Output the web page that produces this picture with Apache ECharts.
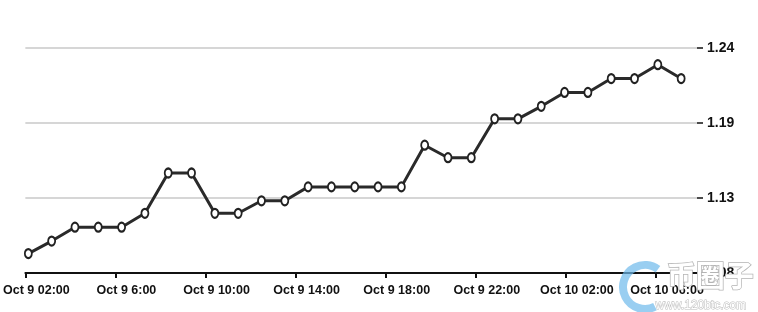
<!DOCTYPE html>
<html>
<head>
<meta charset="utf-8">
<script src="https://cdn.jsdelivr.net/npm/echarts@6/dist/echarts.min.js"></script>
<style>
html,body{margin:0;padding:0;background:#fff;}
#c{width:758px;height:312px;}
</style>
</head>
<body>
<div id="c"></div>
<script>
// hourly observations, Oct 9 02:00 -> Oct 10 06:00
var times = ["Oct 9 02:00","Oct 9 03:00","Oct 9 04:00","Oct 9 05:00","Oct 9 06:00","Oct 9 07:00","Oct 9 08:00","Oct 9 09:00","Oct 9 10:00","Oct 9 11:00","Oct 9 12:00","Oct 9 13:00","Oct 9 14:00","Oct 9 15:00","Oct 9 16:00","Oct 9 17:00","Oct 9 18:00","Oct 9 19:00","Oct 9 20:00","Oct 9 21:00","Oct 9 22:00","Oct 9 23:00","Oct 10 00:00","Oct 10 01:00","Oct 10 02:00","Oct 10 03:00","Oct 10 04:00","Oct 10 05:00","Oct 10 06:00"];
var values = [1.094,1.103,1.113,1.113,1.113,1.123,1.152,1.152,1.123,1.123,1.132,1.132,1.142,1.142,1.142,1.142,1.142,1.172,1.163,1.163,1.191,1.191,1.200,1.210,1.210,1.220,1.220,1.230,1.220];
var tickLabels = ["Oct 9 02:00","Oct 9 6:00","Oct 9 10:00","Oct 9 14:00","Oct 9 18:00","Oct 9 22:00","Oct 10 02:00","Oct 10 06:00"];
var tickHours = [0,4,8,12,16,20,24,28];
var yMin = 1.08, yStep = 0.054, yMax = 1.242;

var seriesData = values.map(function(v,i){ return [i, v]; });

var chart = echarts.init(document.getElementById('c'), null, {renderer:'canvas'});
var font = '"Liberation Sans", Arial, sans-serif';
chart.setOption({
  animation:false,
  backgroundColor:'#ffffff',
  grid:{left:24, right:61, top:48, bottom:39, containLabel:false},
  xAxis:[{
    type:'value', min:-0.128, max:28.68,
    show:false
  },{
    type:'value', min:0, max:29.82, position:'bottom',
    axisLine:{show:true, onZero:false, lineStyle:{color:'#111', width:2}},
    axisTick:{show:true, length:5, lineStyle:{color:'#111', width:2}, customValues:tickHours},
    axisLabel:{show:true, customValues:tickHours, margin:11, padding:[0,0,0,22],
      color:'#111', fontFamily:font, fontWeight:'bold', fontSize:12.5,
      formatter:function(v){ var k = tickHours.indexOf(Math.round(v)); return k>=0 ? tickLabels[k] : ''; }},
    splitLine:{show:false}
  }],
  yAxis:{
    type:'value', position:'right', min:yMin, max:yMax, interval:yStep,
    axisLine:{show:false, onZero:false},
    axisTick:{show:true, length:6, lineStyle:{color:'#111', width:1.5}},
    axisLabel:{margin:10, color:'#111', fontFamily:font, fontWeight:'bold', fontSize:14,
      formatter:function(v){ return v.toFixed(2); }},
    splitLine:{show:true, lineStyle:{color:'#c8c8c8', width:1.5}}
  },
  series:[{
    type:'line', xAxisIndex:0, data:seriesData,
    symbol:'circle', symbolSize:[7,9],
    lineStyle:{color:'#2a2a2a', width:3},
    itemStyle:{color:'#ffffff', borderColor:'#222', borderWidth:2},
    z:3
  }],
  graphic:[
    {type:'arc', z:100, shape:{cx:645, cy:287, r:22, startAngle:Math.PI*0.35, endAngle:Math.PI*1.7},
     style:{stroke:'rgba(110,185,235,0.7)', lineWidth:8, fill:null}},
    {type:'text', z:101, left:666, top:261, style:{text:'币圈子', font:'bold 29px "Noto Sans CJK SC", sans-serif', fill:'#ffffff', stroke:'#b4b4b4', lineWidth:1.5}},
    {type:'text', z:101, left:655, top:299, style:{text:'www.120btc.com', font:'12px "Liberation Sans", sans-serif', fill:'#ffffff', stroke:'#bcbcbc', lineWidth:1}}
  ]
});
</script>
</body>
</html>
